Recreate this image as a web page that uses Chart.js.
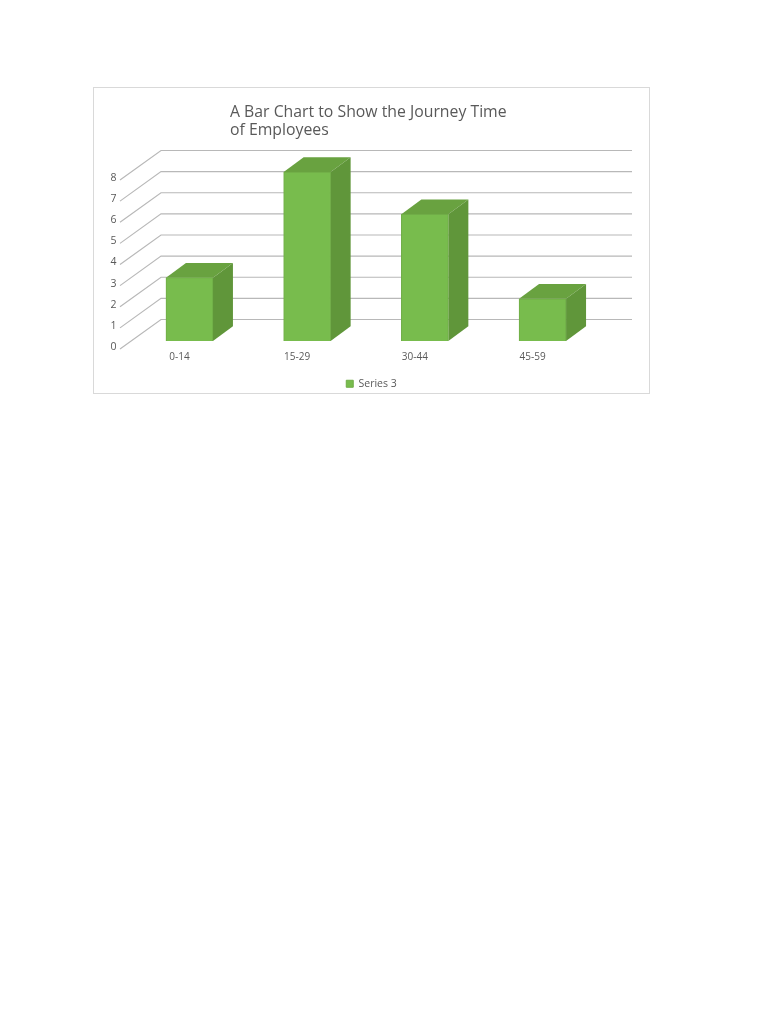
<!DOCTYPE html>
<html>
<head>
<meta charset="utf-8">
<title>Journey Time of Employees</title>
<script src="https://cdn.jsdelivr.net/npm/chart.js@4"></script>
<style>
    html, body { margin: 0; padding: 0; background: #fff; }
    #frame { position: absolute; left: 93px; top: 87px; width: 557px; height: 307px; box-sizing: border-box; border: 1px solid #d9d9d9; }
    #chart { position: absolute; left: -1px; top: -1px; }
</style>
</head>
<body>
<div id="frame"><canvas id="chart" width="557" height="307"></canvas></div>
<script>
const categories = ['0-14', '15-29', '30-44', '45-59'];
const seriesName = 'Series 3';
const seriesValues = [3, 8, 6, 2];
const titleLines = ['A Bar Chart to Show the Journey Time', 'of Employees'];
const yTicks = [0, 1, 2, 3, 4, 5, 6, 7, 8];

const fontFamily = '"Open Sans", sans-serif';

// back wall + floor lines, and the side and top faces of the bars
const fake3d = {
    id: 'fake3d',
    beforeDatasetsDraw(chart) {
        const { ctx, scales: { y } } = chart;
        ctx.save();
        ctx.strokeStyle = '#b8b8b8';
        ctx.lineWidth = 1.2;
        yTicks.forEach((tick) => {
            const py = y.getPixelForValue(tick);
            ctx.beginPath();
            ctx.moveTo(27, py + 8);
            ctx.lineTo(68, py - 21.5);
            ctx.lineTo(539, py - 21.5);
            ctx.stroke();
        });
        // depth of the bars
        const dx = 20, dy = 14.7;
        chart.getDatasetMeta(0).data.forEach((bar) => {
            const left = bar.x - bar.width / 2;
            const right = bar.x + bar.width / 2;
            ctx.fillStyle = '#69a240';
            ctx.beginPath();
            ctx.moveTo(left, bar.y);
            ctx.lineTo(left + dx, bar.y - dy);
            ctx.lineTo(right + dx, bar.y - dy);
            ctx.lineTo(right, bar.y);
            ctx.closePath();
            ctx.fill();
            ctx.fillStyle = '#60963a';
            ctx.beginPath();
            ctx.moveTo(right, bar.y);
            ctx.lineTo(right + dx, bar.y - dy);
            ctx.lineTo(right + dx, bar.base - dy);
            ctx.lineTo(right, bar.base);
            ctx.closePath();
            ctx.fill();
        });
        ctx.restore();
    }
};

// title is left aligned but sits off the chart's left edge
const blockTitle = {
    id: 'blockTitle',
    afterDraw(chart) {
        const { ctx } = chart;
        ctx.save();
        ctx.font = '500 15.8px ' + fontFamily;
        ctx.fillStyle = '#595959';
        ctx.textAlign = 'left';
        ctx.textBaseline = 'alphabetic';
        titleLines.forEach((line, i) => {
            ctx.fillText(line, 137, 29.6 + i * 18);
        });
        ctx.restore();
    }
};

// legend is centred on the whole frame, not on the plot area
const moveLegend = {
    id: 'moveLegend',
    afterLayout(chart) {
        chart.legend.left = 0;
        chart.legend.right = chart.width;
        chart.legend.top += 5;
        chart.legend.bottom += 5;
    }
};

new Chart(document.querySelector('#chart'), {
    type: 'bar',
    data: {
        labels: categories,
        datasets: [{
            label: seriesName,
            data: seriesValues,
            backgroundColor: '#78bc4d',
            borderColor: '#70ad47',
            borderWidth: 1,
            barThickness: 47
        }]
    },
    options: {
        responsive: false,
        animation: false,
        layout: {
            padding: { top: 85, right: 48.6, bottom: 0, left: 0 }
        },
        scales: {
            x: {
                grid: { display: false, drawTicks: false },
                border: { display: false },
                ticks: {
                    color: '#595959',
                    font: { family: fontFamily, size: 10 },
                    padding: 10,
                    labelOffset: -10,
                    maxRotation: 0
                },
                afterFit(scale) { scale.height = 26.5; }
            },
            y: {
                min: 0,
                max: 8,
                grid: { display: false, drawTicks: false },
                border: { display: false },
                afterBuildTicks(scale) { scale.ticks = yTicks.map((value) => ({ value })); },
                ticks: {
                    color: '#595959',
                    font: { family: fontFamily, size: 10.5 },
                    padding: 14,
                    labelOffset: 6
                },
                afterFit(scale) { scale.width = 37.6; }
            }
        },
        plugins: {
            legend: {
                position: 'bottom',
                labels: {
                    color: '#595959',
                    font: { family: fontFamily, size: 10.5 },
                    boxWidth: 7,
                    boxHeight: 7,
                    padding: 6
                }
            },
            title: { display: false },
            tooltip: { enabled: false }
        }
    },
    plugins: [fake3d, blockTitle, moveLegend]
});
</script>
</body>
</html>
